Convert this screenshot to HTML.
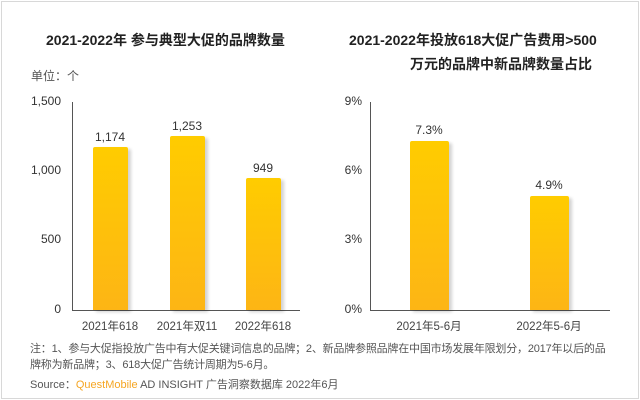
<!DOCTYPE html>
<html><head><meta charset="utf-8"><style>
body{margin:0;width:640px;height:400px;background:#fff;font-family:"Liberation Sans","Noto Sans CJK SC",sans-serif;overflow:hidden}
.frame{position:absolute;left:1px;top:1px;width:636px;height:396px;border:1px solid #d8d8d8}
.t{position:absolute;white-space:nowrap;color:#333}
.bar{position:absolute;background:linear-gradient(#ffcc00,#fdb515);box-shadow:3px 2px 3px rgba(0,0,0,0.18);border-radius:2px 2px 0 0}
.ax{position:absolute;background:#555}
.yl{position:absolute;font-size:12px;color:#333;text-align:right;width:40px}
.vl{position:absolute;font-size:12px;color:#333;text-align:center;width:60px}
.xl{position:absolute;font-size:11.5px;color:#444;text-align:center;width:80px}
</style></head><body>
<div class="frame"></div>
<div class="t" style="left:46px;top:30px;font-size:14px;font-weight:bold;color:#222">2021-2022年 参与典型大促的品牌数量</div>
<div class="t" style="left:31px;top:67px;font-size:12px;color:#555">单位：个</div>
<div class="t" style="left:349px;top:30px;font-size:14px;font-weight:bold;color:#222">2021-2022年投放618大促广告费用&gt;500</div>
<div class="t" style="left:410px;top:54px;font-size:14px;font-weight:bold;color:#222">万元的品牌中新品牌数量占比</div>

<div class="yl" style="left:21px;top:94px">1,500</div>
<div class="yl" style="left:21px;top:163px">1,000</div>
<div class="yl" style="left:21px;top:232px">500</div>
<div class="yl" style="left:21px;top:302px">0</div>
<div class="ax" style="left:72px;top:102px;width:1px;height:209px"></div>
<div class="ax" style="left:72px;top:310px;width:228px;height:1px"></div>
<div class="bar" style="left:93px;top:147px;width:35px;height:163px"></div>
<div class="bar" style="left:170px;top:136px;width:35px;height:174px"></div>
<div class="bar" style="left:246px;top:178px;width:35px;height:132px"></div>
<div class="vl" style="left:80px;top:130px">1,174</div>
<div class="vl" style="left:157px;top:119px">1,253</div>
<div class="vl" style="left:233px;top:161px">949</div>
<div class="xl" style="left:70px;top:318px">2021年618</div>
<div class="xl" style="left:147px;top:318px">2021年双11</div>
<div class="xl" style="left:223px;top:318px">2022年618</div>

<div class="yl" style="left:322px;top:94px">9%</div>
<div class="yl" style="left:322px;top:163px">6%</div>
<div class="yl" style="left:322px;top:232px">3%</div>
<div class="yl" style="left:322px;top:302px">0%</div>
<div class="ax" style="left:370px;top:102px;width:1px;height:209px"></div>
<div class="ax" style="left:370px;top:310px;width:240px;height:1px"></div>
<div class="bar" style="left:410px;top:141px;width:39px;height:169px"></div>
<div class="bar" style="left:530px;top:196px;width:39px;height:114px"></div>
<div class="vl" style="left:399px;top:123px">7.3%</div>
<div class="vl" style="left:519px;top:178px">4.9%</div>
<div class="xl" style="left:389px;top:318px">2021年5-6月</div>
<div class="xl" style="left:509px;top:318px">2022年5-6月</div>

<div class="t" style="left:30px;top:341px;font-size:11px;color:#555;line-height:16px;letter-spacing:-0.2px">注：1、参与大促指投放广告中有大促关键词信息的品牌；2、新品牌参照品牌在中国市场发展年限划分，2017年以后的品<br>牌称为新品牌；3、618大促广告统计周期为5-6月。</div>
<div class="t" style="left:30px;top:376px;font-size:11px;color:#555">Source：<span style="color:#f5a623">QuestMobile</span> AD INSIGHT 广告洞察数据库 2022年6月</div>
</body></html>
